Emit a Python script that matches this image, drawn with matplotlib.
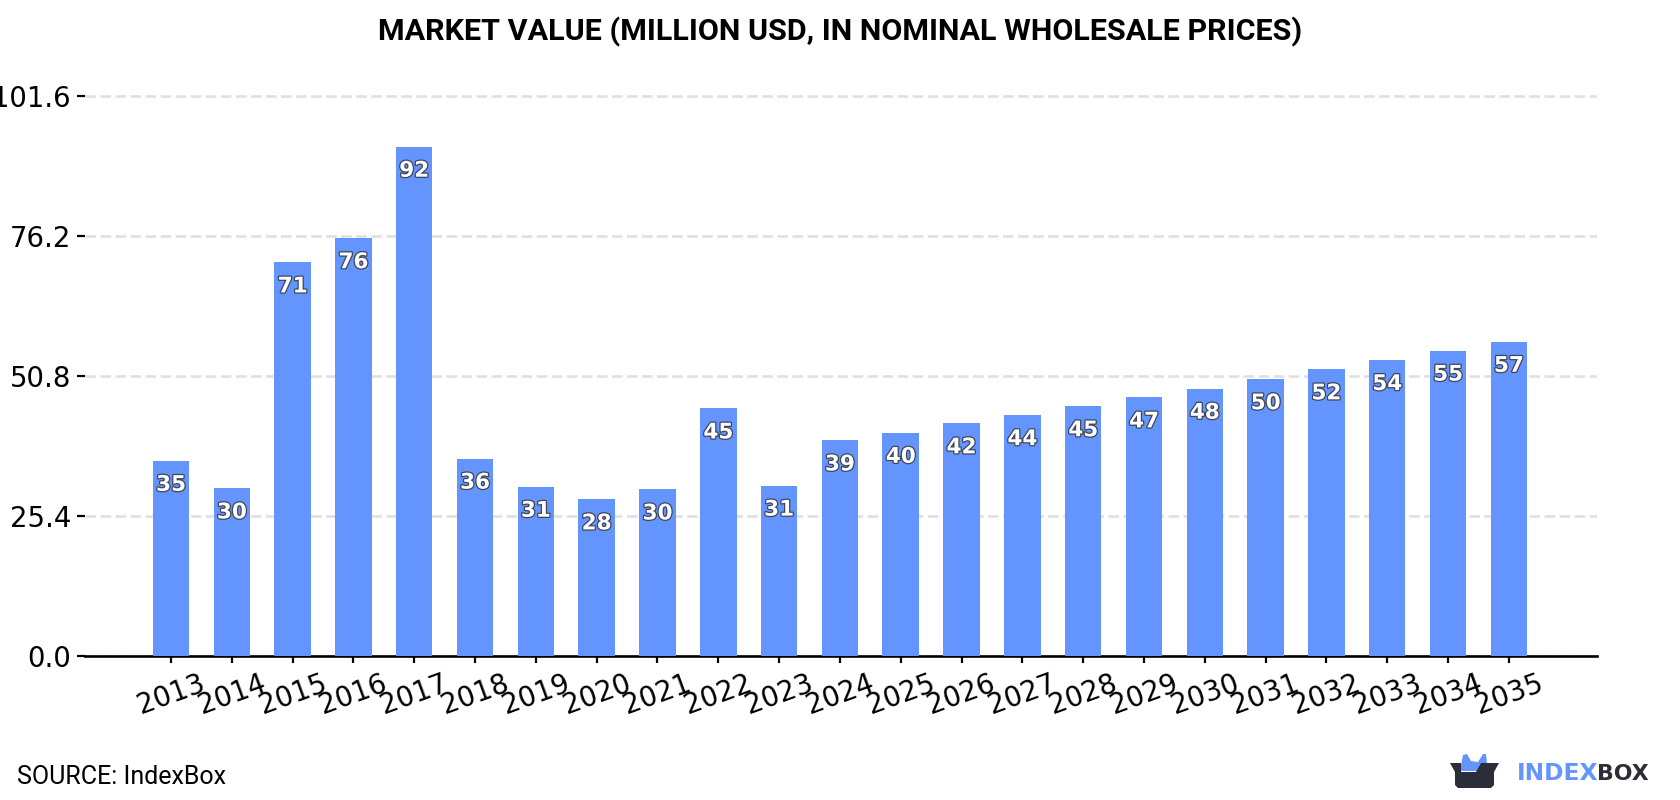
import matplotlib
matplotlib.use("Agg")
import matplotlib.pyplot as plt
import matplotlib.patheffects as pe
from matplotlib.patches import Polygon

years = [2013, 2014, 2015, 2016, 2017, 2018, 2019, 2020, 2021, 2022, 2023, 2024,
         2025, 2026, 2027, 2028, 2029, 2030, 2031, 2032, 2033, 2034, 2035]
values = [35.4, 30.4, 71.4, 75.8, 92.4, 35.8, 30.7, 28.4, 30.2, 44.9, 30.9, 39.1,
          40.49, 42.2, 43.7, 45.3, 46.9, 48.49, 50.2, 52.0, 53.7, 55.4, 57.0]
y_ticks = [0.0, 25.4, 50.8, 76.2, 101.6]

W, H = 1680, 800
BLUE = "#6495ff"
DARK = "#2b2d38"
AX_LEFT, AX_RIGHT, AX_TOP, AX_BOTTOM = 85, 1597, 70, 655.9

fig = plt.figure(figsize=(W / 100, H / 100), dpi=100, facecolor="white")
ax = fig.add_axes([AX_LEFT / W, 1 - AX_BOTTOM / H, (AX_RIGHT - AX_LEFT) / W, (AX_BOTTOM - AX_TOP) / H])

positions = list(range(len(years)))
ax.bar(positions, values, width=0.6, color=BLUE, zorder=3)

# Gridlines sit behind the bars; the baseline stays solid
ax.set_ylim(0, 101.6 * (AX_BOTTOM - AX_TOP) / (AX_BOTTOM - 96.0))
ax.set_xlim(-1.414, 23.45)
ax.set_yticks(y_ticks, [f"{t:.1f}" for t in y_ticks])
ax.set_xticks(positions, [str(y) for y in years])
ax.grid(axis="y", color="#e0e0e0", linewidth=1.9, linestyle=(0, (4.0, 1.7)), zorder=0)
ax.grid(axis="x", visible=False)
for side in ("top", "right", "left"):
    ax.spines[side].set_visible(False)
ax.spines["bottom"].set_linewidth(1.9)
ax.spines["bottom"].set_color("black")
ax.tick_params(axis="y", length=5.8, width=1.6, pad=4.3, labelsize=19.8)
ax.tick_params(axis="x", length=5, width=1.6, pad=4.5, labelsize=19.8)
for label in ax.get_xticklabels():
    label.set_rotation(20)
    label.set_ha("center")

# Value labels inside the top of each bar
for x, v in zip(positions, values):
    ax.annotate(f"{v:.0f}", (x, v), xytext=(0, -24), textcoords="offset pixels",
                ha="center", va="center", fontsize=15.5, fontweight="bold",
                color="white", zorder=5, family="DejaVu Sans",
                path_effects=[pe.withStroke(linewidth=1.8, foreground="#3f4658")])

fig.text(0.5, 1 - 32 / H, "MARKET VALUE (MILLION USD, IN NOMINAL WHOLESALE PRICES)",
         ha="center", va="center", family="Roboto", fontweight="bold", fontsize=21.95,
         color="black")
fig.text(17 / W, 1 - 777 / H, "SOURCE: IndexBox", ha="left", va="center",
         family="Roboto", fontsize=18, color="black")

# Logo: an open box with two blue ears, followed by the wordmark
def px(points):
    return [(x / W, 1 - y / H) for x, y in points]

ears = [(1461, 765), (1463, 755), (1467, 754), (1471, 761), (1478, 762), (1483, 754),
        (1486, 754), (1487, 763), (1487, 771), (1461, 771)]
box = [(1450, 763), (1461, 763), (1461, 772), (1476, 772), (1481, 763), (1499, 763),
       (1494, 772), (1494, 785), (1491, 788), (1458, 788), (1455, 785), (1455, 772)]
fig.add_artist(Polygon(px(ears), closed=True, color=BLUE, linewidth=0))
fig.add_artist(Polygon(px(box), closed=True, color=DARK, linewidth=0))
fig.text(1517 / W, 1 - 774 / H, "INDEX", ha="left", va="center",
         family="DejaVu Sans", fontweight="bold", fontsize=16.8, color=BLUE)
fig.text(1597 / W, 1 - 774 / H, "BOX", ha="left", va="center",
         family="DejaVu Sans", fontweight="bold", fontsize=15.8, color=DARK)

fig.savefig("out.png", dpi=100, facecolor="white")
